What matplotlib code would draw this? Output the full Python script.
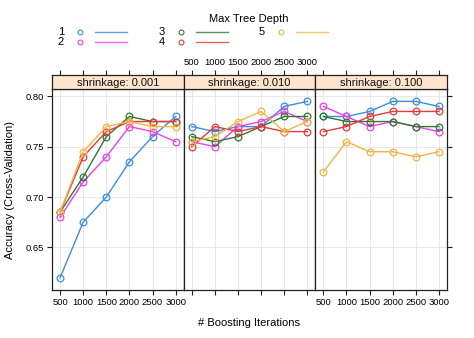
import matplotlib
matplotlib.use("Agg")
import matplotlib.pyplot as plt
from matplotlib.lines import Line2D

plt.rcParams['font.family'] = ['Liberation Sans', 'DejaVu Sans']

iterations = [500, 1000, 1500, 2000, 2500, 3000]
shrinkages = ["0.001", "0.010", "0.100"]
depths = ["1", "2", "3", "4", "5"]
colors = ["#3B8EE3", "#EE3FEE", "#2F7A32", "#E33A3A", "#F3B445"]

# accuracy[shrinkage][depth]
acc_0001 = {
    "1": [0.620, 0.675, 0.700, 0.735, 0.760, 0.780],
    "2": [0.680, 0.715, 0.740, 0.770, 0.765, 0.755],
    "3": [0.685, 0.720, 0.760, 0.780, 0.775, 0.775],
    "4": [0.685, 0.740, 0.765, 0.775, 0.775, 0.775],
    "5": [0.685, 0.745, 0.770, 0.775, 0.770, 0.770],
}
acc_0010 = {
    "1": [0.770, 0.765, 0.770, 0.770, 0.790, 0.795],
    "2": [0.755, 0.750, 0.770, 0.775, 0.785, 0.775],
    "3": [0.760, 0.755, 0.760, 0.770, 0.780, 0.780],
    "4": [0.750, 0.770, 0.765, 0.770, 0.765, 0.765],
    "5": [0.755, 0.760, 0.775, 0.785, 0.765, 0.775],
}
acc_0100 = {
    "1": [0.780, 0.780, 0.785, 0.795, 0.795, 0.790],
    "2": [0.790, 0.780, 0.770, 0.775, 0.770, 0.765],
    "3": [0.780, 0.775, 0.775, 0.775, 0.770, 0.770],
    "4": [0.765, 0.770, 0.780, 0.785, 0.785, 0.785],
    "5": [0.725, 0.755, 0.745, 0.745, 0.740, 0.745],
}
panels = [acc_0001, acc_0010, acc_0100]
yticks = [0.65, 0.70, 0.75, 0.80]

W, H = 474, 338
fig = plt.figure(figsize=(W / 100, H / 100), dpi=100)

def fx(px):
    return px / W

def fy(py):
    return 1 - py / H

left_edges = [52, 183.7, 315.3]
pw = 131.7
plot_top, plot_bot, strip_top = 89, 290, 75
xlim = (325, 3175)
ylim = (0.6077, 0.8073)
frame_col = "#222222"
tick_fs = 6.8
lab_fs = 8.0

for i, (x0, data) in enumerate(zip(left_edges, panels)):
    ax = fig.add_axes([fx(x0), fy(plot_bot), fx(pw), fy(plot_top) - fy(plot_bot)])
    ax.set_xlim(*xlim)
    ax.set_ylim(*ylim)
    for s in ax.spines.values():
        s.set_color(frame_col)
        s.set_linewidth(0.9)
    ax.set_xticks(iterations)
    ax.set_yticks(yticks)
    for xv in iterations:
        ax.axvline(xv, color="#E8E8E8", lw=0.7, zorder=0)
    for yv in yticks:
        ax.axhline(yv, color="#E8E8E8", lw=0.7, zorder=0)
    for d, c in zip(depths, colors):
        ax.plot(iterations, data[d], color=c, lw=1.0, marker="o", ms=4.8,
                mfc="none", mec=c, mew=0.9, zorder=3)
    ax.tick_params(axis="both", direction="out", length=3.5, width=0.8,
                   color=frame_col, labelsize=tick_fs, pad=2)
    ax.tick_params(axis="x", bottom=True, top=False,
                   labelbottom=(i != 1), labeltop=False)
    ax.tick_params(axis="y", left=(i == 0), right=(i == 2),
                   labelleft=(i == 0), labelright=False)
    if i == 0:
        ax.set_yticklabels(["%.2f" % v for v in yticks])
    # strip
    sa = fig.add_axes([fx(x0), fy(plot_top), fx(pw), fy(strip_top) - fy(plot_top)])
    sa.set_facecolor("#FFE5CC")
    sa.set_xlim(*xlim)
    sa.set_ylim(0, 1)
    sa.set_yticks([])
    sa.set_xticks(iterations)
    for s in sa.spines.values():
        s.set_color(frame_col)
        s.set_linewidth(0.9)
    sa.tick_params(axis="x", bottom=False, top=True, labelbottom=False,
                   labeltop=(i == 1), direction="out", length=3.5, width=0.8,
                   color=frame_col, labelsize=tick_fs, pad=2)
    sa.text(0.5, 0.45, "shrinkage: " + shrinkages[i], transform=sa.transAxes,
            ha="center", va="center", fontsize=lab_fs, color="#111111")

fig.text(fx(249), fy(323), "# Boosting Iterations", ha="center", va="center",
         fontsize=lab_fs)
fig.text(fx(10), fy(190), "Accuracy (Cross-Validation)", ha="center",
         va="center", rotation=90, fontsize=lab_fs)

# legend
fig.text(fx(249), fy(19), "Max Tree Depth", ha="center", va="center",
         fontsize=lab_fs)
cols_x = [61, 162, 262]
rows_y = [32, 42]
for k, (d, c) in enumerate(zip(depths, colors)):
    col, row = k // 2, k % 2
    tx = cols_x[col]
    ty = rows_y[row]
    fig.text(fx(tx), fy(ty), d, ha="center", va="center", fontsize=lab_fs)
    fig.add_artist(Line2D([fx(tx + 19)], [fy(ty)], marker="o", ms=3.5,
                          mfc="none", mec=c, mew=0.8, lw=0))
    fig.add_artist(Line2D([fx(tx + 34), fx(tx + 66)], [fy(ty), fy(ty)],
                          color=c, lw=1.0, alpha=0.8))

fig.savefig("out.png", dpi=100)
